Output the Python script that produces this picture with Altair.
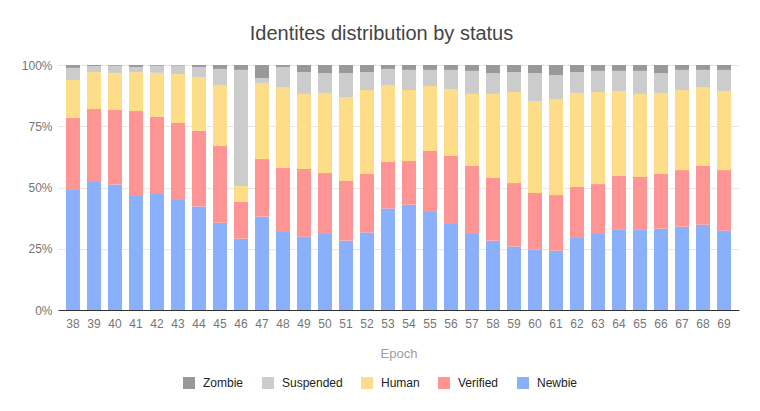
import altair as alt
import pandas as pd

# Epochs shown on the x axis
epochs = list(range(38, 70))

# Share of identities (%) per status and epoch
newbie = [49.0, 52.2, 51.2, 46.5, 47.3, 44.9, 42.2, 35.6, 29.1, 38.1, 31.8,
          29.9, 31.0, 28.3, 31.6, 41.4, 43.0, 40.0, 35.1, 31.0, 28.3, 25.9,
          24.6, 24.2, 29.4, 31.0, 32.7, 32.7, 33.2, 34.0, 34.8, 32.4]
verified = [29.4, 29.8, 30.4, 34.7, 31.5, 31.4, 30.9, 31.3, 15.0, 23.5, 26.2,
            27.7, 24.9, 24.4, 23.9, 19.0, 17.8, 24.9, 27.8, 27.8, 25.6, 25.9,
            23.2, 22.7, 20.8, 20.4, 22.0, 21.6, 22.3, 23.1, 24.0, 24.7]
human = [15.5, 15.1, 15.1, 15.9, 17.9, 20.0, 22.0, 24.9, 6.5, 31.1, 33.0,
         30.6, 32.7, 34.2, 34.3, 31.4, 29.0, 26.5, 27.3, 29.4, 34.3, 37.2,
         37.5, 39.2, 38.4, 37.6, 34.7, 33.9, 33.1, 32.7, 32.2, 32.3]
suspended = [4.9, 2.5, 3.0, 2.1, 2.9, 3.5, 4.1, 6.6, 47.4, 2.0, 8.2,
             8.9, 8.1, 9.8, 7.3, 6.6, 8.2, 6.6, 7.8, 9.4, 8.5, 8.1,
             11.4, 9.8, 8.5, 8.6, 8.2, 9.4, 8.1, 8.2, 7.0, 8.6]
zombie = [1.2, 0.4, 0.3, 0.8, 0.3, 0.2, 0.8, 1.6, 2.0, 5.3, 0.8,
          2.9, 3.3, 3.3, 2.9, 1.6, 2.0, 2.0, 2.0, 2.4, 3.3, 2.9,
          3.3, 4.1, 2.9, 2.4, 2.4, 2.4, 3.3, 2.0, 2.0, 2.0]

# Legend order (top of stack first) and colours
statuses = ["Zombie", "Suspended", "Human", "Verified", "Newbie"]
colors = ["#999999", "#cccccc", "#fddd88", "#ff9494", "#8ab0fc"]

series = {
    "Newbie": newbie,
    "Verified": verified,
    "Human": human,
    "Suspended": suspended,
    "Zombie": zombie,
}
stack_rank = {"Newbie": 0, "Verified": 1, "Human": 2, "Suspended": 3, "Zombie": 4}

rows = []
for i, e in enumerate(epochs):
    for name, vals in series.items():
        rows.append({"epoch": str(e), "status": name, "share": vals[i],
                     "rank": stack_rank[name]})
df = pd.DataFrame(rows)

font = "Liberation Sans"

chart = alt.Chart(df).mark_bar().encode(
    x=alt.X(
        "epoch:N",
        sort=None,
        title="Epoch",
        scale=alt.Scale(paddingInner=0.334, paddingOuter=0.38),
        axis=alt.Axis(
            labelAngle=0, ticks=False, grid=False,
            domainColor="#333333", domainWidth=1,
            labelColor="#757575", labelFontSize=12, labelPadding=8,
            titleColor="#9e9e9e", titleFontSize=13, titleFontWeight="normal",
            titlePadding=18,
        ),
    ),
    y=alt.Y(
        "share:Q",
        stack="normalize",
        title=None,
        axis=alt.Axis(
            format=".0%", values=[0, 0.25, 0.5, 0.75, 1],
            domain=False, ticks=False,
            gridColor="#e6e6e6", gridWidth=1,
            labelColor="#757575", labelFontSize=12, labelPadding=6,
        ),
    ),
    color=alt.Color(
        "status:N",
        scale=alt.Scale(domain=statuses, range=colors),
        legend=alt.Legend(
            title=None, orient="none", direction="horizontal",
            legendX=125, legendY=312,
            symbolType="square", symbolSize=144, symbolStrokeWidth=0,
            symbolOpacity=1,
            labelFontSize=12, labelColor="#222222",
            columnPadding=18, labelOffset=8, padding=0,
        ),
    ),
    order=alt.Order("rank:Q"),
).properties(
    width=681,
    height=245,
    title=alt.TitleParams(
        "Identites distribution by status",
        fontSize=20, fontWeight="normal", color="#444444",
        anchor="middle", dx=-17, offset=15, font=font,
    ),
    autosize=alt.AutoSizeParams(type="none"),
    padding={"left": 58, "top": 65, "right": 21, "bottom": 101},
).configure(
    font=font,
    background="white",
).configure_view(
    stroke=None,
)

chart.save("out.html", embed_options={"renderer": "svg", "actions": False})
